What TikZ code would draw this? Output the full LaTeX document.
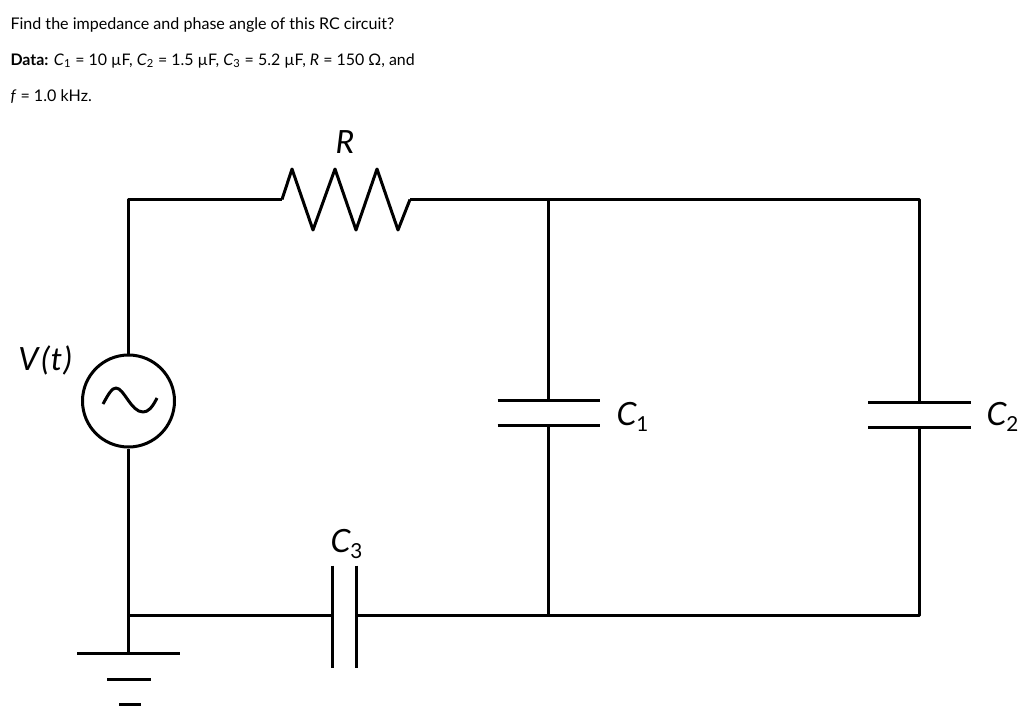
\documentclass[tikz,border=0pt]{standalone}
\usepackage{fontspec}
\setmainfont{Lato}
\tikzset{every picture/.style={line width=2.25pt}}
\tikzset{
  txtline/.style={anchor=base west,inner sep=0pt,font=\fontsize{12.05pt}{14pt}\selectfont},
  dataline/.style={anchor=base west,inner sep=0pt,font=\fontsize{11.95pt}{14pt}\selectfont},
  partlabel/.style={anchor=base west,inner sep=0pt,font=\fontsize{24pt}{28pt}\selectfont\itshape},
  srccircle/.style={circle,draw,inner sep=0pt,minimum size=69pt,line width=2.25pt},
  wire/.style={line width=2.25pt,line join=round}
}
\newcommand{\lowsub}[1]{\textsubscript{\normalfont #1}}
\newcommand{\biglow}[1]{\raisebox{-5pt}{\fontsize{15.5pt}{15.5pt}\selectfont\normalfont #1}}

\begin{document}
\begin{tikzpicture}[x=0.75pt,y=0.75pt,yscale=-1]
	\useasboundingbox (0,0) rectangle (1024,714);

	% Text Node
	\node[txtline] (lineone) at (9,29) {Find the impedance and phase angle of this RC circuit?};
	% Text Node
	\node[dataline] (linetwo) at (9,65) {\textbf{Data:} \textit{C}\lowsub{1} = 10 µF, \textit{C}\lowsub{2} = 1.5 µF, \textit{C}\lowsub{3} = 5.2 µF, \textit{R} = 150 Ω, and};
	% Text Node
	\node[txtline] (linethree) at (9,101) {\textit{f} = 1.0 kHz.};

	% Text Node
	\node[partlabel] (lblR) at (334,153.5) {R};
	% Text Node
	\node[partlabel] (lblV) at (17,370.5) {V\kern2pt(\kern1pt t\kern1pt)};
	% Text Node
	\node[partlabel] (lblCa) at (615,425) {C\biglow{1}};
	% Text Node
	\node[partlabel] (lblCb) at (985,425) {C\biglow{2}};
	% Text Node
	\node[partlabel] (lblCc) at (329,552) {C\biglow{3}};

	%Source
	\node[srccircle] (src) at (128.5,401) {};
	\draw[wire] (103,404) .. controls (109,393) and (112,388) .. (116,388) .. controls (124,388) and (131,412) .. (143,412) .. controls (148,412) and (152,408) .. (157,398);

	%Corners
	\coordinate (topleft) at (128.5,199.5);
	\coordinate (resin) at (282,199.5);
	\coordinate (resout) at (410,199.5);
	\coordinate (topmid) at (548.5,199.5);
	\coordinate (topright) at (919.3,199.5);
	\coordinate (botleft) at (128.5,615.7);
	\coordinate (botmid) at (548.5,615.7);
	\coordinate (botright) at (919.3,615.7);
	\coordinate (gnd) at (128.5,653.3);

	%Capacitor plates
	\coordinate (caup) at (548.5,400.3);
	\coordinate (cadn) at (548.5,425.7);
	\coordinate (cbup) at (919.3,402.3);
	\coordinate (cbdn) at (919.3,427.3);
	\coordinate (ccl) at (332.3,615.7);
	\coordinate (ccr) at (356.7,615.7);
	\draw[wire] (497.5,400.3) -- (600,400.3);
	\draw[wire] (497.5,425.7) -- (600,425.7);
	\draw[wire] (868,402.3) -- (970.5,402.3);
	\draw[wire] (868,427.3) -- (970.5,427.3);
	\draw[wire] (332.3,565.5) -- (332.3,668);
	\draw[wire] (356.7,565.5) -- (356.7,668);

	%Wires
	\draw[wire] (src) -- (topleft) -- (resin);
	\draw[wire] (resin) -- (292,169) -- (313,230) -- (335,169) -- (356,230) -- (377,169) -- (398,230) -- (410,199.5);
	\draw[wire] (resout) -- (topright) -- (cbup);
	\draw[wire] (topmid) -- (caup);
	\draw[wire] (cadn) -- (botmid);
	\draw[wire] (cbdn) -- (botright) -- (ccr);
	\draw[wire] (ccl) -- (botleft);
	\draw[wire] (src) -- (gnd);

	%Ground
	\draw[wire] (77,653.3) -- (180,653.3);
	\draw[wire] (107,679) -- (151,679);
	\draw[wire] (119,704) -- (141,704);

\end{tikzpicture}
\end{document}
